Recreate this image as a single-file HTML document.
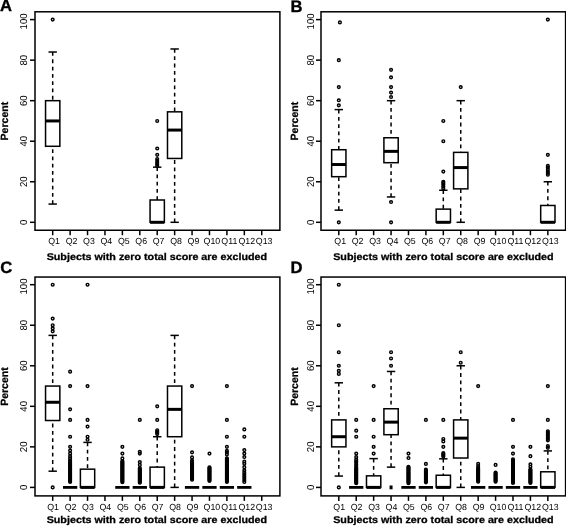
<!DOCTYPE html>
<html lang="en"><head><meta charset="utf-8"><title>Boxplots</title>
<style>html,body{margin:0;padding:0;background:#fff}svg{display:block}</style></head>
<body>
<svg width="566" height="526" viewBox="0 0 566 526">
<rect width="566" height="526" fill="#fff"/>
<g stroke="#000" stroke-width="1.5" fill="none">
<rect x="35.0" y="11.8" width="244.90" height="218.45"/>
<path d="M35.0 222.30h-5.0"/>
<path d="M35.0 181.76h-5.0"/>
<path d="M35.0 141.22h-5.0"/>
<path d="M35.0 100.68h-5.0"/>
<path d="M35.0 60.14h-5.0"/>
<path d="M35.0 19.60h-5.0"/>
<path d="M52.70 230.25v5.0"/>
<path d="M70.12 230.25v5.0"/>
<path d="M87.54 230.25v5.0"/>
<path d="M104.96 230.25v5.0"/>
<path d="M122.38 230.25v5.0"/>
<path d="M139.80 230.25v5.0"/>
<path d="M157.22 230.25v5.0"/>
<path d="M174.64 230.25v5.0"/>
<path d="M192.06 230.25v5.0"/>
<path d="M209.48 230.25v5.0"/>
<path d="M226.90 230.25v5.0"/>
<path d="M244.32 230.25v5.0"/>
<path d="M261.74 230.25v5.0"/>
<path d="M52.70 52.03V100.68" stroke-dasharray="3.8 3.5"/>
<path d="M48.50 52.03h8.4"/>
<path d="M52.70 204.06V146.29" stroke-dasharray="3.8 3.5"/>
<path d="M48.50 204.06h8.4"/>
<rect x="45.55" y="100.68" width="14.3" height="45.61" fill="#fff"/>
<path d="M45.55 120.95h14.3" stroke-width="3.0"/>
<circle cx="52.70" cy="19.60" r="1.35" stroke-width="1.45"/>
<path d="M157.22 167.17V200.00" stroke-dasharray="3.8 3.5"/>
<path d="M153.02 167.17h8.4"/>
<rect x="150.07" y="200.00" width="14.3" height="22.30" fill="#fff"/>
<path d="M150.07 222.30h14.3" stroke-width="3.0"/>
<circle cx="157.22" cy="165.95" r="1.35" stroke-width="1.45"/>
<circle cx="157.22" cy="164.33" r="1.35" stroke-width="1.45"/>
<circle cx="157.22" cy="162.71" r="1.35" stroke-width="1.45"/>
<circle cx="157.22" cy="160.88" r="1.35" stroke-width="1.45"/>
<circle cx="157.22" cy="159.06" r="1.35" stroke-width="1.45"/>
<circle cx="157.22" cy="154.80" r="1.35" stroke-width="1.45"/>
<circle cx="157.22" cy="148.52" r="1.35" stroke-width="1.45"/>
<circle cx="157.22" cy="120.95" r="1.35" stroke-width="1.45"/>
<path d="M174.64 48.99V111.83" stroke-dasharray="3.8 3.5"/>
<path d="M170.44 48.99h8.4"/>
<path d="M174.64 222.30V158.45" stroke-dasharray="3.8 3.5"/>
<path d="M170.44 222.30h8.4"/>
<rect x="167.49" y="111.83" width="14.3" height="46.62" fill="#fff"/>
<path d="M167.49 130.07h14.3" stroke-width="3.0"/>
</g>
<g font-family="'Liberation Sans', Arial, sans-serif" fill="#000" text-rendering="geometricPrecision">
<text font-size="9.6" text-anchor="middle" transform="translate(26.70 222.30) rotate(-90) scale(1 1.05)">0</text>
<text font-size="9.6" text-anchor="middle" transform="translate(26.70 181.76) rotate(-90) scale(1 1.05)">20</text>
<text font-size="9.6" text-anchor="middle" transform="translate(26.70 141.22) rotate(-90) scale(1 1.05)">40</text>
<text font-size="9.6" text-anchor="middle" transform="translate(26.70 100.68) rotate(-90) scale(1 1.05)">60</text>
<text font-size="9.6" text-anchor="middle" transform="translate(26.70 60.14) rotate(-90) scale(1 1.05)">80</text>
<text font-size="9.6" text-anchor="middle" transform="translate(26.70 21.40) rotate(-90) scale(1 1.05)">100</text>
<text font-size="8.8" text-anchor="middle" transform="translate(54.10 244.15)">Q1</text>
<text font-size="8.8" text-anchor="middle" transform="translate(71.52 244.15)">Q2</text>
<text font-size="8.8" text-anchor="middle" transform="translate(88.94 244.15)">Q3</text>
<text font-size="8.8" text-anchor="middle" transform="translate(106.36 244.15)">Q4</text>
<text font-size="8.8" text-anchor="middle" transform="translate(123.78 244.15)">Q5</text>
<text font-size="8.8" text-anchor="middle" transform="translate(141.20 244.15)">Q6</text>
<text font-size="8.8" text-anchor="middle" transform="translate(158.62 244.15)">Q7</text>
<text font-size="8.8" text-anchor="middle" transform="translate(176.04 244.15)">Q8</text>
<text font-size="8.8" text-anchor="middle" transform="translate(193.46 244.15)">Q9</text>
<text font-size="8.8" text-anchor="middle" transform="translate(211.88 244.15)">Q10</text>
<text font-size="8.8" text-anchor="middle" transform="translate(229.30 244.15)">Q11</text>
<text font-size="8.8" text-anchor="middle" transform="translate(246.72 244.15)">Q12</text>
<text font-size="8.8" text-anchor="middle" transform="translate(264.14 244.15)">Q13</text>
<text stroke="#000" stroke-width="0.3" font-size="10.75" font-weight="bold" text-anchor="middle" transform="translate(156.85 259.75) scale(1 0.91)">Subjects with zero total score are excluded</text>
<text stroke="#000" stroke-width="0.25" font-size="10.5" font-weight="bold" text-anchor="middle" transform="translate(8.00 121.12) rotate(-90)">Percent</text>
<text stroke="#000" stroke-width="0.35" font-size="16.6" font-weight="bold" text-anchor="start" transform="translate(0.10 11.30)">A</text>
</g>
<g stroke="#000" stroke-width="1.5" fill="none">
<rect x="321.0" y="11.8" width="244.60" height="218.45"/>
<path d="M321.0 222.30h-5.0"/>
<path d="M321.0 181.76h-5.0"/>
<path d="M321.0 141.22h-5.0"/>
<path d="M321.0 100.68h-5.0"/>
<path d="M321.0 60.14h-5.0"/>
<path d="M321.0 19.60h-5.0"/>
<path d="M338.80 230.25v5.0"/>
<path d="M356.22 230.25v5.0"/>
<path d="M373.64 230.25v5.0"/>
<path d="M391.06 230.25v5.0"/>
<path d="M408.48 230.25v5.0"/>
<path d="M425.90 230.25v5.0"/>
<path d="M443.32 230.25v5.0"/>
<path d="M460.74 230.25v5.0"/>
<path d="M478.16 230.25v5.0"/>
<path d="M495.58 230.25v5.0"/>
<path d="M513.00 230.25v5.0"/>
<path d="M530.42 230.25v5.0"/>
<path d="M547.84 230.25v5.0"/>
<path d="M338.80 109.60V149.73" stroke-dasharray="3.8 3.5"/>
<path d="M334.60 109.60h8.4"/>
<path d="M338.80 210.14V176.69" stroke-dasharray="3.8 3.5"/>
<path d="M334.60 210.14h8.4"/>
<rect x="331.65" y="149.73" width="14.3" height="26.96" fill="#fff"/>
<path d="M331.65 164.53h14.3" stroke-width="3.0"/>
<circle cx="338.80" cy="222.30" r="1.35" stroke-width="1.45"/>
<circle cx="338.80" cy="105.34" r="1.35" stroke-width="1.45"/>
<circle cx="338.80" cy="100.27" r="1.35" stroke-width="1.45"/>
<circle cx="338.80" cy="87.10" r="1.35" stroke-width="1.45"/>
<circle cx="338.80" cy="60.14" r="1.35" stroke-width="1.45"/>
<circle cx="339.90" cy="22.44" r="1.35" stroke-width="1.45"/>
<path d="M391.06 100.68V137.77" stroke-dasharray="3.8 3.5"/>
<path d="M386.86 100.68h8.4"/>
<path d="M391.06 196.96V162.71" stroke-dasharray="3.8 3.5"/>
<path d="M386.86 196.96h8.4"/>
<rect x="383.91" y="137.77" width="14.3" height="24.93" fill="#fff"/>
<path d="M383.91 151.36h14.3" stroke-width="3.0"/>
<circle cx="391.06" cy="222.30" r="1.35" stroke-width="1.45"/>
<circle cx="391.06" cy="202.03" r="1.35" stroke-width="1.45"/>
<circle cx="391.06" cy="97.03" r="1.35" stroke-width="1.45"/>
<circle cx="391.06" cy="92.57" r="1.35" stroke-width="1.45"/>
<circle cx="391.06" cy="87.10" r="1.35" stroke-width="1.45"/>
<circle cx="391.06" cy="77.37" r="1.35" stroke-width="1.45"/>
<circle cx="391.06" cy="69.87" r="1.35" stroke-width="1.45"/>
<path d="M443.32 190.27V209.12" stroke-dasharray="3.8 3.5"/>
<path d="M439.12 190.27h8.4"/>
<rect x="436.17" y="209.12" width="14.3" height="13.18" fill="#fff"/>
<path d="M436.17 222.30h14.3" stroke-width="3.0"/>
<circle cx="443.32" cy="188.45" r="1.35" stroke-width="1.45"/>
<circle cx="443.32" cy="186.62" r="1.35" stroke-width="1.45"/>
<circle cx="443.32" cy="184.80" r="1.35" stroke-width="1.45"/>
<circle cx="443.32" cy="183.18" r="1.35" stroke-width="1.45"/>
<circle cx="443.32" cy="181.76" r="1.35" stroke-width="1.45"/>
<circle cx="443.32" cy="171.62" r="1.35" stroke-width="1.45"/>
<circle cx="443.32" cy="141.22" r="1.35" stroke-width="1.45"/>
<circle cx="443.32" cy="120.95" r="1.35" stroke-width="1.45"/>
<path d="M460.74 100.68V152.37" stroke-dasharray="3.8 3.5"/>
<path d="M456.54 100.68h8.4"/>
<path d="M460.74 222.30V188.85" stroke-dasharray="3.8 3.5"/>
<path d="M456.54 222.30h8.4"/>
<rect x="453.59" y="152.37" width="14.3" height="36.49" fill="#fff"/>
<path d="M453.59 167.57h14.3" stroke-width="3.0"/>
<circle cx="460.74" cy="87.10" r="1.35" stroke-width="1.45"/>
<path d="M547.84 181.76V205.48" stroke-dasharray="3.8 3.5"/>
<path d="M543.64 181.76h8.4"/>
<rect x="540.69" y="205.48" width="14.3" height="16.82" fill="#fff"/>
<path d="M540.69 222.30h14.3" stroke-width="3.0"/>
<circle cx="547.84" cy="174.67" r="1.35" stroke-width="1.45"/>
<circle cx="547.84" cy="173.04" r="1.35" stroke-width="1.45"/>
<circle cx="547.84" cy="171.62" r="1.35" stroke-width="1.45"/>
<circle cx="547.84" cy="169.60" r="1.35" stroke-width="1.45"/>
<circle cx="547.84" cy="167.57" r="1.35" stroke-width="1.45"/>
<circle cx="547.84" cy="165.95" r="1.35" stroke-width="1.45"/>
<circle cx="547.84" cy="154.80" r="1.35" stroke-width="1.45"/>
<circle cx="547.84" cy="19.60" r="1.35" stroke-width="1.45"/>
</g>
<g font-family="'Liberation Sans', Arial, sans-serif" fill="#000" text-rendering="geometricPrecision">
<text font-size="9.6" text-anchor="middle" transform="translate(314.10 222.30) rotate(-90) scale(1 1.05)">0</text>
<text font-size="9.6" text-anchor="middle" transform="translate(314.10 181.76) rotate(-90) scale(1 1.05)">20</text>
<text font-size="9.6" text-anchor="middle" transform="translate(314.10 141.22) rotate(-90) scale(1 1.05)">40</text>
<text font-size="9.6" text-anchor="middle" transform="translate(314.10 100.68) rotate(-90) scale(1 1.05)">60</text>
<text font-size="9.6" text-anchor="middle" transform="translate(314.10 60.14) rotate(-90) scale(1 1.05)">80</text>
<text font-size="9.6" text-anchor="middle" transform="translate(314.10 21.40) rotate(-90) scale(1 1.05)">100</text>
<text font-size="8.8" text-anchor="middle" transform="translate(340.20 244.15)">Q1</text>
<text font-size="8.8" text-anchor="middle" transform="translate(357.62 244.15)">Q2</text>
<text font-size="8.8" text-anchor="middle" transform="translate(375.04 244.15)">Q3</text>
<text font-size="8.8" text-anchor="middle" transform="translate(392.46 244.15)">Q4</text>
<text font-size="8.8" text-anchor="middle" transform="translate(409.88 244.15)">Q5</text>
<text font-size="8.8" text-anchor="middle" transform="translate(427.30 244.15)">Q6</text>
<text font-size="8.8" text-anchor="middle" transform="translate(444.72 244.15)">Q7</text>
<text font-size="8.8" text-anchor="middle" transform="translate(462.14 244.15)">Q8</text>
<text font-size="8.8" text-anchor="middle" transform="translate(479.56 244.15)">Q9</text>
<text font-size="8.8" text-anchor="middle" transform="translate(497.98 244.15)">Q10</text>
<text font-size="8.8" text-anchor="middle" transform="translate(515.40 244.15)">Q11</text>
<text font-size="8.8" text-anchor="middle" transform="translate(532.82 244.15)">Q12</text>
<text font-size="8.8" text-anchor="middle" transform="translate(550.24 244.15)">Q13</text>
<text stroke="#000" stroke-width="0.3" font-size="10.75" font-weight="bold" text-anchor="middle" transform="translate(443.40 259.75) scale(1 0.91)">Subjects with zero total score are excluded</text>
<text stroke="#000" stroke-width="0.25" font-size="10.5" font-weight="bold" text-anchor="middle" transform="translate(298.40 121.12) rotate(-90)">Percent</text>
<text stroke="#000" stroke-width="0.35" font-size="16.6" font-weight="bold" text-anchor="start" transform="translate(290.50 11.60)">B</text>
</g>
<g stroke="#000" stroke-width="1.5" fill="none">
<rect x="35.0" y="277.05" width="244.90" height="218.85"/>
<path d="M35.0 487.40h-5.0"/>
<path d="M35.0 446.86h-5.0"/>
<path d="M35.0 406.32h-5.0"/>
<path d="M35.0 365.78h-5.0"/>
<path d="M35.0 325.24h-5.0"/>
<path d="M35.0 284.70h-5.0"/>
<path d="M52.70 495.9v5.0"/>
<path d="M70.12 495.9v5.0"/>
<path d="M87.54 495.9v5.0"/>
<path d="M104.96 495.9v5.0"/>
<path d="M122.38 495.9v5.0"/>
<path d="M139.80 495.9v5.0"/>
<path d="M157.22 495.9v5.0"/>
<path d="M174.64 495.9v5.0"/>
<path d="M192.06 495.9v5.0"/>
<path d="M209.48 495.9v5.0"/>
<path d="M226.90 495.9v5.0"/>
<path d="M244.32 495.9v5.0"/>
<path d="M261.74 495.9v5.0"/>
<path d="M52.70 335.38V386.05" stroke-dasharray="3.8 3.5"/>
<path d="M48.50 335.38h8.4"/>
<path d="M52.70 471.18V420.51" stroke-dasharray="3.8 3.5"/>
<path d="M48.50 471.18h8.4"/>
<rect x="45.55" y="386.05" width="14.3" height="34.46" fill="#fff"/>
<path d="M45.55 402.27h14.3" stroke-width="3.0"/>
<circle cx="52.70" cy="487.40" r="1.35" stroke-width="1.45"/>
<circle cx="52.70" cy="331.32" r="1.35" stroke-width="1.45"/>
<circle cx="52.70" cy="328.28" r="1.35" stroke-width="1.45"/>
<circle cx="52.70" cy="325.24" r="1.35" stroke-width="1.45"/>
<circle cx="52.70" cy="318.55" r="1.35" stroke-width="1.45"/>
<circle cx="52.70" cy="284.70" r="1.35" stroke-width="1.45"/>
<path d="M62.97 487.40h14.3" stroke-width="2.8"/>
<circle cx="70.12" cy="481.93" r="1.35" stroke-width="1.45"/>
<circle cx="70.12" cy="481.01" r="1.35" stroke-width="1.45"/>
<circle cx="70.12" cy="480.10" r="1.35" stroke-width="1.45"/>
<circle cx="70.12" cy="479.19" r="1.35" stroke-width="1.45"/>
<circle cx="70.12" cy="478.28" r="1.35" stroke-width="1.45"/>
<circle cx="70.12" cy="477.37" r="1.35" stroke-width="1.45"/>
<circle cx="70.12" cy="476.45" r="1.35" stroke-width="1.45"/>
<circle cx="70.12" cy="475.54" r="1.35" stroke-width="1.45"/>
<circle cx="70.12" cy="474.63" r="1.35" stroke-width="1.45"/>
<circle cx="70.12" cy="473.72" r="1.35" stroke-width="1.45"/>
<circle cx="70.12" cy="472.81" r="1.35" stroke-width="1.45"/>
<circle cx="70.12" cy="471.89" r="1.35" stroke-width="1.45"/>
<circle cx="70.12" cy="470.98" r="1.35" stroke-width="1.45"/>
<circle cx="70.12" cy="470.07" r="1.35" stroke-width="1.45"/>
<circle cx="70.12" cy="469.16" r="1.35" stroke-width="1.45"/>
<circle cx="70.12" cy="468.24" r="1.35" stroke-width="1.45"/>
<circle cx="70.12" cy="467.33" r="1.35" stroke-width="1.45"/>
<circle cx="70.12" cy="466.42" r="1.35" stroke-width="1.45"/>
<circle cx="70.12" cy="465.51" r="1.35" stroke-width="1.45"/>
<circle cx="70.12" cy="464.60" r="1.35" stroke-width="1.45"/>
<circle cx="70.12" cy="463.68" r="1.35" stroke-width="1.45"/>
<circle cx="70.12" cy="462.77" r="1.35" stroke-width="1.45"/>
<circle cx="70.12" cy="461.86" r="1.35" stroke-width="1.45"/>
<circle cx="70.12" cy="460.44" r="1.35" stroke-width="1.45"/>
<circle cx="70.12" cy="458.41" r="1.35" stroke-width="1.45"/>
<circle cx="70.12" cy="456.18" r="1.35" stroke-width="1.45"/>
<circle cx="70.12" cy="453.55" r="1.35" stroke-width="1.45"/>
<circle cx="70.12" cy="450.51" r="1.35" stroke-width="1.45"/>
<circle cx="70.12" cy="446.86" r="1.35" stroke-width="1.45"/>
<circle cx="70.12" cy="436.72" r="1.35" stroke-width="1.45"/>
<circle cx="70.12" cy="419.90" r="1.35" stroke-width="1.45"/>
<circle cx="70.12" cy="409.36" r="1.35" stroke-width="1.45"/>
<circle cx="70.12" cy="386.05" r="1.35" stroke-width="1.45"/>
<circle cx="70.12" cy="371.66" r="1.35" stroke-width="1.45"/>
<path d="M87.54 442.40V469.16" stroke-dasharray="3.8 3.5"/>
<path d="M83.34 442.40h8.4"/>
<rect x="80.39" y="469.16" width="14.3" height="18.24" fill="#fff"/>
<path d="M80.39 487.40h14.3" stroke-width="3.0"/>
<circle cx="87.54" cy="439.77" r="1.35" stroke-width="1.45"/>
<circle cx="87.54" cy="436.72" r="1.35" stroke-width="1.45"/>
<circle cx="87.54" cy="426.59" r="1.35" stroke-width="1.45"/>
<circle cx="87.54" cy="419.90" r="1.35" stroke-width="1.45"/>
<circle cx="87.54" cy="386.05" r="1.35" stroke-width="1.45"/>
<circle cx="87.54" cy="284.70" r="1.35" stroke-width="1.45"/>
<path d="M115.23 487.40h14.3" stroke-width="2.8"/>
<circle cx="122.38" cy="482.13" r="1.35" stroke-width="1.45"/>
<circle cx="122.38" cy="481.22" r="1.35" stroke-width="1.45"/>
<circle cx="122.38" cy="480.31" r="1.35" stroke-width="1.45"/>
<circle cx="122.38" cy="479.39" r="1.35" stroke-width="1.45"/>
<circle cx="122.38" cy="478.48" r="1.35" stroke-width="1.45"/>
<circle cx="122.38" cy="477.57" r="1.35" stroke-width="1.45"/>
<circle cx="122.38" cy="476.66" r="1.35" stroke-width="1.45"/>
<circle cx="122.38" cy="475.74" r="1.35" stroke-width="1.45"/>
<circle cx="122.38" cy="474.83" r="1.35" stroke-width="1.45"/>
<circle cx="122.38" cy="473.92" r="1.35" stroke-width="1.45"/>
<circle cx="122.38" cy="473.01" r="1.35" stroke-width="1.45"/>
<circle cx="122.38" cy="472.10" r="1.35" stroke-width="1.45"/>
<circle cx="122.38" cy="471.18" r="1.35" stroke-width="1.45"/>
<circle cx="122.38" cy="470.27" r="1.35" stroke-width="1.45"/>
<circle cx="122.38" cy="469.36" r="1.35" stroke-width="1.45"/>
<circle cx="122.38" cy="468.45" r="1.35" stroke-width="1.45"/>
<circle cx="122.38" cy="467.54" r="1.35" stroke-width="1.45"/>
<circle cx="122.38" cy="466.62" r="1.35" stroke-width="1.45"/>
<circle cx="122.38" cy="465.71" r="1.35" stroke-width="1.45"/>
<circle cx="122.38" cy="464.80" r="1.35" stroke-width="1.45"/>
<circle cx="122.38" cy="463.89" r="1.35" stroke-width="1.45"/>
<circle cx="122.38" cy="462.97" r="1.35" stroke-width="1.45"/>
<circle cx="122.38" cy="462.06" r="1.35" stroke-width="1.45"/>
<circle cx="122.38" cy="461.15" r="1.35" stroke-width="1.45"/>
<circle cx="122.38" cy="458.41" r="1.35" stroke-width="1.45"/>
<circle cx="122.38" cy="453.55" r="1.35" stroke-width="1.45"/>
<circle cx="122.38" cy="446.86" r="1.35" stroke-width="1.45"/>
<path d="M132.65 487.40h14.3" stroke-width="2.8"/>
<circle cx="139.80" cy="482.74" r="1.35" stroke-width="1.45"/>
<circle cx="139.80" cy="481.83" r="1.35" stroke-width="1.45"/>
<circle cx="139.80" cy="480.91" r="1.35" stroke-width="1.45"/>
<circle cx="139.80" cy="480.00" r="1.35" stroke-width="1.45"/>
<circle cx="139.80" cy="479.09" r="1.35" stroke-width="1.45"/>
<circle cx="139.80" cy="478.18" r="1.35" stroke-width="1.45"/>
<circle cx="139.80" cy="477.26" r="1.35" stroke-width="1.45"/>
<circle cx="139.80" cy="476.35" r="1.35" stroke-width="1.45"/>
<circle cx="139.80" cy="475.44" r="1.35" stroke-width="1.45"/>
<circle cx="139.80" cy="474.53" r="1.35" stroke-width="1.45"/>
<circle cx="139.80" cy="473.62" r="1.35" stroke-width="1.45"/>
<circle cx="139.80" cy="472.70" r="1.35" stroke-width="1.45"/>
<circle cx="139.80" cy="471.79" r="1.35" stroke-width="1.45"/>
<circle cx="139.80" cy="470.88" r="1.35" stroke-width="1.45"/>
<circle cx="139.80" cy="469.97" r="1.35" stroke-width="1.45"/>
<circle cx="139.80" cy="469.06" r="1.35" stroke-width="1.45"/>
<circle cx="139.80" cy="468.14" r="1.35" stroke-width="1.45"/>
<circle cx="139.80" cy="464.90" r="1.35" stroke-width="1.45"/>
<circle cx="139.80" cy="462.06" r="1.35" stroke-width="1.45"/>
<circle cx="139.80" cy="453.55" r="1.35" stroke-width="1.45"/>
<circle cx="139.80" cy="451.72" r="1.35" stroke-width="1.45"/>
<circle cx="139.80" cy="419.90" r="1.35" stroke-width="1.45"/>
<path d="M157.22 436.72V467.13" stroke-dasharray="3.8 3.5"/>
<path d="M153.02 436.72h8.4"/>
<rect x="150.07" y="467.13" width="14.3" height="20.27" fill="#fff"/>
<path d="M150.07 487.40h14.3" stroke-width="3.0"/>
<circle cx="157.22" cy="434.09" r="1.35" stroke-width="1.45"/>
<circle cx="157.22" cy="432.67" r="1.35" stroke-width="1.45"/>
<circle cx="157.22" cy="431.45" r="1.35" stroke-width="1.45"/>
<circle cx="157.22" cy="430.24" r="1.35" stroke-width="1.45"/>
<circle cx="157.22" cy="419.90" r="1.35" stroke-width="1.45"/>
<circle cx="157.22" cy="406.32" r="1.35" stroke-width="1.45"/>
<path d="M174.64 335.38V386.05" stroke-dasharray="3.8 3.5"/>
<path d="M170.44 335.38h8.4"/>
<path d="M174.64 487.40V436.72" stroke-dasharray="3.8 3.5"/>
<path d="M170.44 487.40h8.4"/>
<rect x="167.49" y="386.05" width="14.3" height="50.67" fill="#fff"/>
<path d="M167.49 409.36h14.3" stroke-width="3.0"/>
<path d="M184.91 487.40h14.3" stroke-width="2.8"/>
<circle cx="192.06" cy="479.70" r="1.35" stroke-width="1.45"/>
<circle cx="192.06" cy="478.79" r="1.35" stroke-width="1.45"/>
<circle cx="192.06" cy="477.87" r="1.35" stroke-width="1.45"/>
<circle cx="192.06" cy="476.96" r="1.35" stroke-width="1.45"/>
<circle cx="192.06" cy="476.05" r="1.35" stroke-width="1.45"/>
<circle cx="192.06" cy="475.14" r="1.35" stroke-width="1.45"/>
<circle cx="192.06" cy="474.22" r="1.35" stroke-width="1.45"/>
<circle cx="192.06" cy="473.31" r="1.35" stroke-width="1.45"/>
<circle cx="192.06" cy="472.40" r="1.35" stroke-width="1.45"/>
<circle cx="192.06" cy="471.49" r="1.35" stroke-width="1.45"/>
<circle cx="192.06" cy="470.58" r="1.35" stroke-width="1.45"/>
<circle cx="192.06" cy="469.66" r="1.35" stroke-width="1.45"/>
<circle cx="192.06" cy="468.75" r="1.35" stroke-width="1.45"/>
<circle cx="192.06" cy="467.84" r="1.35" stroke-width="1.45"/>
<circle cx="192.06" cy="466.93" r="1.35" stroke-width="1.45"/>
<circle cx="192.06" cy="466.02" r="1.35" stroke-width="1.45"/>
<circle cx="192.06" cy="465.10" r="1.35" stroke-width="1.45"/>
<circle cx="192.06" cy="464.19" r="1.35" stroke-width="1.45"/>
<circle cx="192.06" cy="463.28" r="1.35" stroke-width="1.45"/>
<circle cx="192.06" cy="462.37" r="1.35" stroke-width="1.45"/>
<circle cx="192.06" cy="461.45" r="1.35" stroke-width="1.45"/>
<circle cx="192.06" cy="460.54" r="1.35" stroke-width="1.45"/>
<circle cx="192.06" cy="457.40" r="1.35" stroke-width="1.45"/>
<circle cx="192.06" cy="452.33" r="1.35" stroke-width="1.45"/>
<circle cx="192.06" cy="386.05" r="1.35" stroke-width="1.45"/>
<path d="M202.33 487.40h14.3" stroke-width="2.8"/>
<circle cx="209.48" cy="480.91" r="1.35" stroke-width="1.45"/>
<circle cx="209.48" cy="480.00" r="1.35" stroke-width="1.45"/>
<circle cx="209.48" cy="479.09" r="1.35" stroke-width="1.45"/>
<circle cx="209.48" cy="478.18" r="1.35" stroke-width="1.45"/>
<circle cx="209.48" cy="477.26" r="1.35" stroke-width="1.45"/>
<circle cx="209.48" cy="476.35" r="1.35" stroke-width="1.45"/>
<circle cx="209.48" cy="475.44" r="1.35" stroke-width="1.45"/>
<circle cx="209.48" cy="474.53" r="1.35" stroke-width="1.45"/>
<circle cx="209.48" cy="473.62" r="1.35" stroke-width="1.45"/>
<circle cx="209.48" cy="472.70" r="1.35" stroke-width="1.45"/>
<circle cx="209.48" cy="471.79" r="1.35" stroke-width="1.45"/>
<circle cx="209.48" cy="470.88" r="1.35" stroke-width="1.45"/>
<circle cx="209.48" cy="469.97" r="1.35" stroke-width="1.45"/>
<circle cx="209.48" cy="469.06" r="1.35" stroke-width="1.45"/>
<circle cx="209.48" cy="468.14" r="1.35" stroke-width="1.45"/>
<circle cx="209.48" cy="467.23" r="1.35" stroke-width="1.45"/>
<circle cx="209.48" cy="453.55" r="1.35" stroke-width="1.45"/>
<path d="M219.75 487.40h14.3" stroke-width="2.8"/>
<circle cx="226.90" cy="481.93" r="1.35" stroke-width="1.45"/>
<circle cx="226.90" cy="481.01" r="1.35" stroke-width="1.45"/>
<circle cx="226.90" cy="480.10" r="1.35" stroke-width="1.45"/>
<circle cx="226.90" cy="479.19" r="1.35" stroke-width="1.45"/>
<circle cx="226.90" cy="478.28" r="1.35" stroke-width="1.45"/>
<circle cx="226.90" cy="477.37" r="1.35" stroke-width="1.45"/>
<circle cx="226.90" cy="476.45" r="1.35" stroke-width="1.45"/>
<circle cx="226.90" cy="475.54" r="1.35" stroke-width="1.45"/>
<circle cx="226.90" cy="474.63" r="1.35" stroke-width="1.45"/>
<circle cx="226.90" cy="473.72" r="1.35" stroke-width="1.45"/>
<circle cx="226.90" cy="472.81" r="1.35" stroke-width="1.45"/>
<circle cx="226.90" cy="471.89" r="1.35" stroke-width="1.45"/>
<circle cx="226.90" cy="470.98" r="1.35" stroke-width="1.45"/>
<circle cx="226.90" cy="470.07" r="1.35" stroke-width="1.45"/>
<circle cx="226.90" cy="469.16" r="1.35" stroke-width="1.45"/>
<circle cx="226.90" cy="468.24" r="1.35" stroke-width="1.45"/>
<circle cx="226.90" cy="467.33" r="1.35" stroke-width="1.45"/>
<circle cx="226.90" cy="466.42" r="1.35" stroke-width="1.45"/>
<circle cx="226.90" cy="465.51" r="1.35" stroke-width="1.45"/>
<circle cx="226.90" cy="464.60" r="1.35" stroke-width="1.45"/>
<circle cx="226.90" cy="463.68" r="1.35" stroke-width="1.45"/>
<circle cx="226.90" cy="462.77" r="1.35" stroke-width="1.45"/>
<circle cx="226.90" cy="461.86" r="1.35" stroke-width="1.45"/>
<circle cx="226.90" cy="460.95" r="1.35" stroke-width="1.45"/>
<circle cx="226.90" cy="460.04" r="1.35" stroke-width="1.45"/>
<circle cx="226.90" cy="459.12" r="1.35" stroke-width="1.45"/>
<circle cx="226.90" cy="458.21" r="1.35" stroke-width="1.45"/>
<circle cx="226.90" cy="454.56" r="1.35" stroke-width="1.45"/>
<circle cx="226.90" cy="452.33" r="1.35" stroke-width="1.45"/>
<circle cx="226.90" cy="450.91" r="1.35" stroke-width="1.45"/>
<circle cx="226.90" cy="446.86" r="1.35" stroke-width="1.45"/>
<circle cx="226.90" cy="436.72" r="1.35" stroke-width="1.45"/>
<circle cx="226.90" cy="419.90" r="1.35" stroke-width="1.45"/>
<circle cx="226.90" cy="386.05" r="1.35" stroke-width="1.45"/>
<path d="M237.17 487.40h14.3" stroke-width="2.8"/>
<circle cx="244.32" cy="481.93" r="1.35" stroke-width="1.45"/>
<circle cx="244.32" cy="480.00" r="1.35" stroke-width="1.45"/>
<circle cx="244.32" cy="478.08" r="1.35" stroke-width="1.45"/>
<circle cx="244.32" cy="476.15" r="1.35" stroke-width="1.45"/>
<circle cx="244.32" cy="474.22" r="1.35" stroke-width="1.45"/>
<circle cx="244.32" cy="472.30" r="1.35" stroke-width="1.45"/>
<circle cx="244.32" cy="470.37" r="1.35" stroke-width="1.45"/>
<circle cx="244.32" cy="467.13" r="1.35" stroke-width="1.45"/>
<circle cx="244.32" cy="463.68" r="1.35" stroke-width="1.45"/>
<circle cx="244.32" cy="461.45" r="1.35" stroke-width="1.45"/>
<circle cx="244.32" cy="457.00" r="1.35" stroke-width="1.45"/>
<circle cx="244.32" cy="453.55" r="1.35" stroke-width="1.45"/>
<circle cx="244.32" cy="450.10" r="1.35" stroke-width="1.45"/>
<circle cx="244.32" cy="436.72" r="1.35" stroke-width="1.45"/>
<circle cx="244.32" cy="429.43" r="1.35" stroke-width="1.45"/>
</g>
<g font-family="'Liberation Sans', Arial, sans-serif" fill="#000" text-rendering="geometricPrecision">
<text font-size="9.6" text-anchor="middle" transform="translate(26.70 487.40) rotate(-90) scale(1 1.05)">0</text>
<text font-size="9.6" text-anchor="middle" transform="translate(26.70 446.86) rotate(-90) scale(1 1.05)">20</text>
<text font-size="9.6" text-anchor="middle" transform="translate(26.70 406.32) rotate(-90) scale(1 1.05)">40</text>
<text font-size="9.6" text-anchor="middle" transform="translate(26.70 365.78) rotate(-90) scale(1 1.05)">60</text>
<text font-size="9.6" text-anchor="middle" transform="translate(26.70 325.24) rotate(-90) scale(1 1.05)">80</text>
<text font-size="9.6" text-anchor="middle" transform="translate(26.70 286.50) rotate(-90) scale(1 1.05)">100</text>
<text font-size="8.8" text-anchor="middle" transform="translate(53.10 509.80)">Q1</text>
<text font-size="8.8" text-anchor="middle" transform="translate(70.52 509.80)">Q2</text>
<text font-size="8.8" text-anchor="middle" transform="translate(87.94 509.80)">Q3</text>
<text font-size="8.8" text-anchor="middle" transform="translate(105.36 509.80)">Q4</text>
<text font-size="8.8" text-anchor="middle" transform="translate(122.78 509.80)">Q5</text>
<text font-size="8.8" text-anchor="middle" transform="translate(140.20 509.80)">Q6</text>
<text font-size="8.8" text-anchor="middle" transform="translate(157.62 509.80)">Q7</text>
<text font-size="8.8" text-anchor="middle" transform="translate(175.04 509.80)">Q8</text>
<text font-size="8.8" text-anchor="middle" transform="translate(192.46 509.80)">Q9</text>
<text font-size="8.8" text-anchor="middle" transform="translate(211.88 509.80)">Q10</text>
<text font-size="8.8" text-anchor="middle" transform="translate(229.30 509.80)">Q11</text>
<text font-size="8.8" text-anchor="middle" transform="translate(246.72 509.80)">Q12</text>
<text font-size="8.8" text-anchor="middle" transform="translate(264.14 509.80)">Q13</text>
<text stroke="#000" stroke-width="0.3" font-size="10.75" font-weight="bold" text-anchor="middle" transform="translate(156.85 523.40) scale(1 0.91)">Subjects with zero total score are excluded</text>
<text stroke="#000" stroke-width="0.25" font-size="10.5" font-weight="bold" text-anchor="middle" transform="translate(8.00 386.58) rotate(-90)">Percent</text>
<text stroke="#000" stroke-width="0.35" font-size="16.6" font-weight="bold" text-anchor="start" transform="translate(0.20 272.80)">C</text>
</g>
<g stroke="#000" stroke-width="1.5" fill="none">
<rect x="321.0" y="277.05" width="244.60" height="218.85"/>
<path d="M321.0 487.40h-5.0"/>
<path d="M321.0 446.86h-5.0"/>
<path d="M321.0 406.32h-5.0"/>
<path d="M321.0 365.78h-5.0"/>
<path d="M321.0 325.24h-5.0"/>
<path d="M321.0 284.70h-5.0"/>
<path d="M338.80 495.9v5.0"/>
<path d="M356.22 495.9v5.0"/>
<path d="M373.64 495.9v5.0"/>
<path d="M391.06 495.9v5.0"/>
<path d="M408.48 495.9v5.0"/>
<path d="M425.90 495.9v5.0"/>
<path d="M443.32 495.9v5.0"/>
<path d="M460.74 495.9v5.0"/>
<path d="M478.16 495.9v5.0"/>
<path d="M495.58 495.9v5.0"/>
<path d="M513.00 495.9v5.0"/>
<path d="M530.42 495.9v5.0"/>
<path d="M547.84 495.9v5.0"/>
<path d="M338.80 382.81V419.90" stroke-dasharray="3.8 3.5"/>
<path d="M334.60 382.81h8.4"/>
<path d="M338.80 476.05V446.86" stroke-dasharray="3.8 3.5"/>
<path d="M334.60 476.05h8.4"/>
<rect x="331.65" y="419.90" width="14.3" height="26.96" fill="#fff"/>
<path d="M331.65 436.72h14.3" stroke-width="3.0"/>
<circle cx="338.80" cy="487.40" r="1.35" stroke-width="1.45"/>
<circle cx="338.80" cy="373.89" r="1.35" stroke-width="1.45"/>
<circle cx="338.80" cy="370.85" r="1.35" stroke-width="1.45"/>
<circle cx="338.80" cy="365.78" r="1.35" stroke-width="1.45"/>
<circle cx="338.80" cy="352.20" r="1.35" stroke-width="1.45"/>
<circle cx="338.80" cy="325.24" r="1.35" stroke-width="1.45"/>
<circle cx="338.80" cy="284.70" r="1.35" stroke-width="1.45"/>
<path d="M349.07 487.40h14.3" stroke-width="2.8"/>
<circle cx="356.22" cy="483.14" r="1.35" stroke-width="1.45"/>
<circle cx="356.22" cy="482.23" r="1.35" stroke-width="1.45"/>
<circle cx="356.22" cy="481.32" r="1.35" stroke-width="1.45"/>
<circle cx="356.22" cy="480.41" r="1.35" stroke-width="1.45"/>
<circle cx="356.22" cy="479.49" r="1.35" stroke-width="1.45"/>
<circle cx="356.22" cy="478.58" r="1.35" stroke-width="1.45"/>
<circle cx="356.22" cy="477.67" r="1.35" stroke-width="1.45"/>
<circle cx="356.22" cy="476.76" r="1.35" stroke-width="1.45"/>
<circle cx="356.22" cy="475.85" r="1.35" stroke-width="1.45"/>
<circle cx="356.22" cy="474.93" r="1.35" stroke-width="1.45"/>
<circle cx="356.22" cy="474.02" r="1.35" stroke-width="1.45"/>
<circle cx="356.22" cy="473.11" r="1.35" stroke-width="1.45"/>
<circle cx="356.22" cy="472.20" r="1.35" stroke-width="1.45"/>
<circle cx="356.22" cy="471.29" r="1.35" stroke-width="1.45"/>
<circle cx="356.22" cy="470.37" r="1.35" stroke-width="1.45"/>
<circle cx="356.22" cy="469.46" r="1.35" stroke-width="1.45"/>
<circle cx="356.22" cy="468.55" r="1.35" stroke-width="1.45"/>
<circle cx="356.22" cy="467.64" r="1.35" stroke-width="1.45"/>
<circle cx="356.22" cy="466.12" r="1.35" stroke-width="1.45"/>
<circle cx="356.22" cy="464.49" r="1.35" stroke-width="1.45"/>
<circle cx="356.22" cy="462.87" r="1.35" stroke-width="1.45"/>
<circle cx="356.22" cy="461.25" r="1.35" stroke-width="1.45"/>
<circle cx="356.22" cy="459.63" r="1.35" stroke-width="1.45"/>
<circle cx="356.22" cy="457.00" r="1.35" stroke-width="1.45"/>
<circle cx="356.22" cy="453.55" r="1.35" stroke-width="1.45"/>
<circle cx="356.22" cy="436.72" r="1.35" stroke-width="1.45"/>
<circle cx="356.22" cy="430.64" r="1.35" stroke-width="1.45"/>
<circle cx="356.22" cy="419.90" r="1.35" stroke-width="1.45"/>
<path d="M373.64 458.62V475.85" stroke-dasharray="3.8 3.5"/>
<path d="M369.44 458.62h8.4"/>
<rect x="366.49" y="475.85" width="14.3" height="11.55" fill="#fff"/>
<path d="M366.49 487.40h14.3" stroke-width="3.0"/>
<circle cx="373.64" cy="453.55" r="1.35" stroke-width="1.45"/>
<circle cx="373.64" cy="446.86" r="1.35" stroke-width="1.45"/>
<circle cx="373.64" cy="436.72" r="1.35" stroke-width="1.45"/>
<circle cx="373.64" cy="419.90" r="1.35" stroke-width="1.45"/>
<circle cx="373.64" cy="386.05" r="1.35" stroke-width="1.45"/>
<path d="M391.06 371.46V408.75" stroke-dasharray="3.8 3.5"/>
<path d="M386.86 371.46h8.4"/>
<path d="M391.06 467.13V434.70" stroke-dasharray="3.8 3.5"/>
<path d="M386.86 467.13h8.4"/>
<rect x="383.91" y="408.75" width="14.3" height="25.95" fill="#fff"/>
<path d="M383.91 422.13h14.3" stroke-width="3.0"/>
<rect x="389.56" y="485.50" width="3" height="3.8" fill="#000" stroke="none"/>
<circle cx="391.06" cy="365.78" r="1.35" stroke-width="1.45"/>
<circle cx="391.06" cy="358.48" r="1.35" stroke-width="1.45"/>
<circle cx="391.06" cy="352.20" r="1.35" stroke-width="1.45"/>
<path d="M401.33 487.40h14.3" stroke-width="2.8"/>
<circle cx="408.48" cy="483.14" r="1.35" stroke-width="1.45"/>
<circle cx="408.48" cy="482.23" r="1.35" stroke-width="1.45"/>
<circle cx="408.48" cy="481.32" r="1.35" stroke-width="1.45"/>
<circle cx="408.48" cy="480.41" r="1.35" stroke-width="1.45"/>
<circle cx="408.48" cy="479.49" r="1.35" stroke-width="1.45"/>
<circle cx="408.48" cy="478.58" r="1.35" stroke-width="1.45"/>
<circle cx="408.48" cy="477.67" r="1.35" stroke-width="1.45"/>
<circle cx="408.48" cy="476.76" r="1.35" stroke-width="1.45"/>
<circle cx="408.48" cy="475.85" r="1.35" stroke-width="1.45"/>
<circle cx="408.48" cy="474.93" r="1.35" stroke-width="1.45"/>
<circle cx="408.48" cy="474.02" r="1.35" stroke-width="1.45"/>
<circle cx="408.48" cy="473.11" r="1.35" stroke-width="1.45"/>
<circle cx="408.48" cy="472.20" r="1.35" stroke-width="1.45"/>
<circle cx="408.48" cy="471.29" r="1.35" stroke-width="1.45"/>
<circle cx="408.48" cy="470.37" r="1.35" stroke-width="1.45"/>
<circle cx="408.48" cy="469.46" r="1.35" stroke-width="1.45"/>
<circle cx="408.48" cy="468.55" r="1.35" stroke-width="1.45"/>
<circle cx="408.48" cy="467.64" r="1.35" stroke-width="1.45"/>
<circle cx="408.48" cy="466.72" r="1.35" stroke-width="1.45"/>
<circle cx="408.48" cy="458.01" r="1.35" stroke-width="1.45"/>
<circle cx="408.48" cy="453.55" r="1.35" stroke-width="1.45"/>
<path d="M418.75 487.40h14.3" stroke-width="2.8"/>
<circle cx="425.90" cy="482.33" r="1.35" stroke-width="1.45"/>
<circle cx="425.90" cy="481.42" r="1.35" stroke-width="1.45"/>
<circle cx="425.90" cy="480.51" r="1.35" stroke-width="1.45"/>
<circle cx="425.90" cy="479.60" r="1.35" stroke-width="1.45"/>
<circle cx="425.90" cy="478.68" r="1.35" stroke-width="1.45"/>
<circle cx="425.90" cy="477.77" r="1.35" stroke-width="1.45"/>
<circle cx="425.90" cy="476.86" r="1.35" stroke-width="1.45"/>
<circle cx="425.90" cy="475.95" r="1.35" stroke-width="1.45"/>
<circle cx="425.90" cy="475.04" r="1.35" stroke-width="1.45"/>
<circle cx="425.90" cy="474.12" r="1.35" stroke-width="1.45"/>
<circle cx="425.90" cy="473.21" r="1.35" stroke-width="1.45"/>
<circle cx="425.90" cy="472.30" r="1.35" stroke-width="1.45"/>
<circle cx="425.90" cy="471.39" r="1.35" stroke-width="1.45"/>
<circle cx="425.90" cy="470.47" r="1.35" stroke-width="1.45"/>
<circle cx="425.90" cy="469.56" r="1.35" stroke-width="1.45"/>
<circle cx="425.90" cy="463.89" r="1.35" stroke-width="1.45"/>
<circle cx="425.90" cy="419.90" r="1.35" stroke-width="1.45"/>
<path d="M443.32 458.82V475.24" stroke-dasharray="3.8 3.5"/>
<path d="M439.12 458.82h8.4"/>
<rect x="436.17" y="475.24" width="14.3" height="12.16" fill="#fff"/>
<path d="M436.17 487.40h14.3" stroke-width="3.0"/>
<circle cx="443.32" cy="456.59" r="1.35" stroke-width="1.45"/>
<circle cx="443.32" cy="455.37" r="1.35" stroke-width="1.45"/>
<circle cx="443.32" cy="454.16" r="1.35" stroke-width="1.45"/>
<circle cx="443.32" cy="453.14" r="1.35" stroke-width="1.45"/>
<circle cx="443.32" cy="446.86" r="1.35" stroke-width="1.45"/>
<circle cx="443.32" cy="441.39" r="1.35" stroke-width="1.45"/>
<circle cx="443.32" cy="438.95" r="1.35" stroke-width="1.45"/>
<circle cx="443.32" cy="419.90" r="1.35" stroke-width="1.45"/>
<path d="M460.74 365.78V419.90" stroke-dasharray="3.8 3.5"/>
<path d="M456.54 365.78h8.4"/>
<path d="M460.74 487.40V458.01" stroke-dasharray="3.8 3.5"/>
<path d="M456.54 487.40h8.4"/>
<rect x="453.59" y="419.90" width="14.3" height="38.11" fill="#fff"/>
<path d="M453.59 438.14h14.3" stroke-width="3.0"/>
<circle cx="460.74" cy="362.74" r="1.35" stroke-width="1.45"/>
<circle cx="460.74" cy="352.20" r="1.35" stroke-width="1.45"/>
<path d="M471.01 487.40h14.3" stroke-width="2.8"/>
<circle cx="478.16" cy="481.72" r="1.35" stroke-width="1.45"/>
<circle cx="478.16" cy="480.81" r="1.35" stroke-width="1.45"/>
<circle cx="478.16" cy="479.90" r="1.35" stroke-width="1.45"/>
<circle cx="478.16" cy="478.99" r="1.35" stroke-width="1.45"/>
<circle cx="478.16" cy="478.08" r="1.35" stroke-width="1.45"/>
<circle cx="478.16" cy="477.16" r="1.35" stroke-width="1.45"/>
<circle cx="478.16" cy="476.25" r="1.35" stroke-width="1.45"/>
<circle cx="478.16" cy="475.34" r="1.35" stroke-width="1.45"/>
<circle cx="478.16" cy="474.43" r="1.35" stroke-width="1.45"/>
<circle cx="478.16" cy="473.52" r="1.35" stroke-width="1.45"/>
<circle cx="478.16" cy="472.60" r="1.35" stroke-width="1.45"/>
<circle cx="478.16" cy="471.69" r="1.35" stroke-width="1.45"/>
<circle cx="478.16" cy="470.78" r="1.35" stroke-width="1.45"/>
<circle cx="478.16" cy="469.87" r="1.35" stroke-width="1.45"/>
<circle cx="478.16" cy="468.95" r="1.35" stroke-width="1.45"/>
<circle cx="478.16" cy="468.04" r="1.35" stroke-width="1.45"/>
<circle cx="478.16" cy="466.32" r="1.35" stroke-width="1.45"/>
<circle cx="478.16" cy="463.89" r="1.35" stroke-width="1.45"/>
<circle cx="478.16" cy="386.05" r="1.35" stroke-width="1.45"/>
<path d="M488.43 487.40h14.3" stroke-width="2.8"/>
<circle cx="495.58" cy="481.72" r="1.35" stroke-width="1.45"/>
<circle cx="495.58" cy="480.81" r="1.35" stroke-width="1.45"/>
<circle cx="495.58" cy="479.90" r="1.35" stroke-width="1.45"/>
<circle cx="495.58" cy="478.99" r="1.35" stroke-width="1.45"/>
<circle cx="495.58" cy="478.08" r="1.35" stroke-width="1.45"/>
<circle cx="495.58" cy="477.16" r="1.35" stroke-width="1.45"/>
<circle cx="495.58" cy="476.25" r="1.35" stroke-width="1.45"/>
<circle cx="495.58" cy="475.34" r="1.35" stroke-width="1.45"/>
<circle cx="495.58" cy="474.43" r="1.35" stroke-width="1.45"/>
<circle cx="495.58" cy="473.52" r="1.35" stroke-width="1.45"/>
<circle cx="495.58" cy="472.60" r="1.35" stroke-width="1.45"/>
<circle cx="495.58" cy="464.90" r="1.35" stroke-width="1.45"/>
<path d="M505.85 487.40h14.3" stroke-width="2.8"/>
<circle cx="513.00" cy="482.94" r="1.35" stroke-width="1.45"/>
<circle cx="513.00" cy="482.03" r="1.35" stroke-width="1.45"/>
<circle cx="513.00" cy="481.12" r="1.35" stroke-width="1.45"/>
<circle cx="513.00" cy="480.20" r="1.35" stroke-width="1.45"/>
<circle cx="513.00" cy="479.29" r="1.35" stroke-width="1.45"/>
<circle cx="513.00" cy="478.38" r="1.35" stroke-width="1.45"/>
<circle cx="513.00" cy="477.47" r="1.35" stroke-width="1.45"/>
<circle cx="513.00" cy="476.56" r="1.35" stroke-width="1.45"/>
<circle cx="513.00" cy="475.64" r="1.35" stroke-width="1.45"/>
<circle cx="513.00" cy="474.73" r="1.35" stroke-width="1.45"/>
<circle cx="513.00" cy="473.82" r="1.35" stroke-width="1.45"/>
<circle cx="513.00" cy="472.91" r="1.35" stroke-width="1.45"/>
<circle cx="513.00" cy="471.99" r="1.35" stroke-width="1.45"/>
<circle cx="513.00" cy="471.08" r="1.35" stroke-width="1.45"/>
<circle cx="513.00" cy="470.17" r="1.35" stroke-width="1.45"/>
<circle cx="513.00" cy="469.26" r="1.35" stroke-width="1.45"/>
<circle cx="513.00" cy="468.35" r="1.35" stroke-width="1.45"/>
<circle cx="513.00" cy="467.43" r="1.35" stroke-width="1.45"/>
<circle cx="513.00" cy="466.52" r="1.35" stroke-width="1.45"/>
<circle cx="513.00" cy="465.61" r="1.35" stroke-width="1.45"/>
<circle cx="513.00" cy="464.70" r="1.35" stroke-width="1.45"/>
<circle cx="513.00" cy="463.79" r="1.35" stroke-width="1.45"/>
<circle cx="513.00" cy="462.87" r="1.35" stroke-width="1.45"/>
<circle cx="513.00" cy="461.96" r="1.35" stroke-width="1.45"/>
<circle cx="513.00" cy="461.05" r="1.35" stroke-width="1.45"/>
<circle cx="513.00" cy="460.14" r="1.35" stroke-width="1.45"/>
<circle cx="513.00" cy="459.22" r="1.35" stroke-width="1.45"/>
<circle cx="513.00" cy="453.55" r="1.35" stroke-width="1.45"/>
<circle cx="513.00" cy="446.86" r="1.35" stroke-width="1.45"/>
<circle cx="513.00" cy="419.90" r="1.35" stroke-width="1.45"/>
<path d="M523.27 487.40h14.3" stroke-width="2.8"/>
<circle cx="530.42" cy="482.94" r="1.35" stroke-width="1.45"/>
<circle cx="530.42" cy="482.03" r="1.35" stroke-width="1.45"/>
<circle cx="530.42" cy="481.12" r="1.35" stroke-width="1.45"/>
<circle cx="530.42" cy="480.20" r="1.35" stroke-width="1.45"/>
<circle cx="530.42" cy="479.29" r="1.35" stroke-width="1.45"/>
<circle cx="530.42" cy="478.38" r="1.35" stroke-width="1.45"/>
<circle cx="530.42" cy="477.47" r="1.35" stroke-width="1.45"/>
<circle cx="530.42" cy="476.56" r="1.35" stroke-width="1.45"/>
<circle cx="530.42" cy="475.64" r="1.35" stroke-width="1.45"/>
<circle cx="530.42" cy="474.73" r="1.35" stroke-width="1.45"/>
<circle cx="530.42" cy="473.82" r="1.35" stroke-width="1.45"/>
<circle cx="530.42" cy="472.91" r="1.35" stroke-width="1.45"/>
<circle cx="530.42" cy="471.99" r="1.35" stroke-width="1.45"/>
<circle cx="530.42" cy="471.08" r="1.35" stroke-width="1.45"/>
<circle cx="530.42" cy="470.17" r="1.35" stroke-width="1.45"/>
<circle cx="530.42" cy="469.26" r="1.35" stroke-width="1.45"/>
<circle cx="530.42" cy="466.72" r="1.35" stroke-width="1.45"/>
<circle cx="530.42" cy="464.29" r="1.35" stroke-width="1.45"/>
<circle cx="530.42" cy="456.18" r="1.35" stroke-width="1.45"/>
<circle cx="530.42" cy="446.86" r="1.35" stroke-width="1.45"/>
<path d="M547.84 450.91V471.79" stroke-dasharray="3.8 3.5"/>
<path d="M543.64 450.91h8.4"/>
<rect x="540.69" y="471.79" width="14.3" height="15.61" fill="#fff"/>
<path d="M540.69 487.40h14.3" stroke-width="3.0"/>
<circle cx="547.84" cy="447.87" r="1.35" stroke-width="1.45"/>
<circle cx="547.84" cy="446.05" r="1.35" stroke-width="1.45"/>
<circle cx="547.84" cy="440.37" r="1.35" stroke-width="1.45"/>
<circle cx="547.84" cy="438.85" r="1.35" stroke-width="1.45"/>
<circle cx="547.84" cy="437.33" r="1.35" stroke-width="1.45"/>
<circle cx="547.84" cy="435.81" r="1.35" stroke-width="1.45"/>
<circle cx="547.84" cy="434.29" r="1.35" stroke-width="1.45"/>
<circle cx="547.84" cy="432.77" r="1.35" stroke-width="1.45"/>
<circle cx="547.84" cy="431.25" r="1.35" stroke-width="1.45"/>
<circle cx="547.84" cy="419.90" r="1.35" stroke-width="1.45"/>
<circle cx="547.84" cy="386.05" r="1.35" stroke-width="1.45"/>
</g>
<g font-family="'Liberation Sans', Arial, sans-serif" fill="#000" text-rendering="geometricPrecision">
<text font-size="9.6" text-anchor="middle" transform="translate(314.10 487.40) rotate(-90) scale(1 1.05)">0</text>
<text font-size="9.6" text-anchor="middle" transform="translate(314.10 446.86) rotate(-90) scale(1 1.05)">20</text>
<text font-size="9.6" text-anchor="middle" transform="translate(314.10 406.32) rotate(-90) scale(1 1.05)">40</text>
<text font-size="9.6" text-anchor="middle" transform="translate(314.10 365.78) rotate(-90) scale(1 1.05)">60</text>
<text font-size="9.6" text-anchor="middle" transform="translate(314.10 325.24) rotate(-90) scale(1 1.05)">80</text>
<text font-size="9.6" text-anchor="middle" transform="translate(314.10 286.50) rotate(-90) scale(1 1.05)">100</text>
<text font-size="8.8" text-anchor="middle" transform="translate(339.20 509.80)">Q1</text>
<text font-size="8.8" text-anchor="middle" transform="translate(356.62 509.80)">Q2</text>
<text font-size="8.8" text-anchor="middle" transform="translate(374.04 509.80)">Q3</text>
<text font-size="8.8" text-anchor="middle" transform="translate(391.46 509.80)">Q4</text>
<text font-size="8.8" text-anchor="middle" transform="translate(408.88 509.80)">Q5</text>
<text font-size="8.8" text-anchor="middle" transform="translate(426.30 509.80)">Q6</text>
<text font-size="8.8" text-anchor="middle" transform="translate(443.72 509.80)">Q7</text>
<text font-size="8.8" text-anchor="middle" transform="translate(461.14 509.80)">Q8</text>
<text font-size="8.8" text-anchor="middle" transform="translate(478.56 509.80)">Q9</text>
<text font-size="8.8" text-anchor="middle" transform="translate(497.98 509.80)">Q10</text>
<text font-size="8.8" text-anchor="middle" transform="translate(515.40 509.80)">Q11</text>
<text font-size="8.8" text-anchor="middle" transform="translate(532.82 509.80)">Q12</text>
<text font-size="8.8" text-anchor="middle" transform="translate(550.24 509.80)">Q13</text>
<text stroke="#000" stroke-width="0.3" font-size="10.75" font-weight="bold" text-anchor="middle" transform="translate(443.40 523.40) scale(1 0.91)">Subjects with zero total score are excluded</text>
<text stroke="#000" stroke-width="0.25" font-size="10.5" font-weight="bold" text-anchor="middle" transform="translate(298.40 386.58) rotate(-90)">Percent</text>
<text stroke="#000" stroke-width="0.35" font-size="16.6" font-weight="bold" text-anchor="start" transform="translate(290.50 272.80)">D</text>
</g>
</svg>
</body></html>
